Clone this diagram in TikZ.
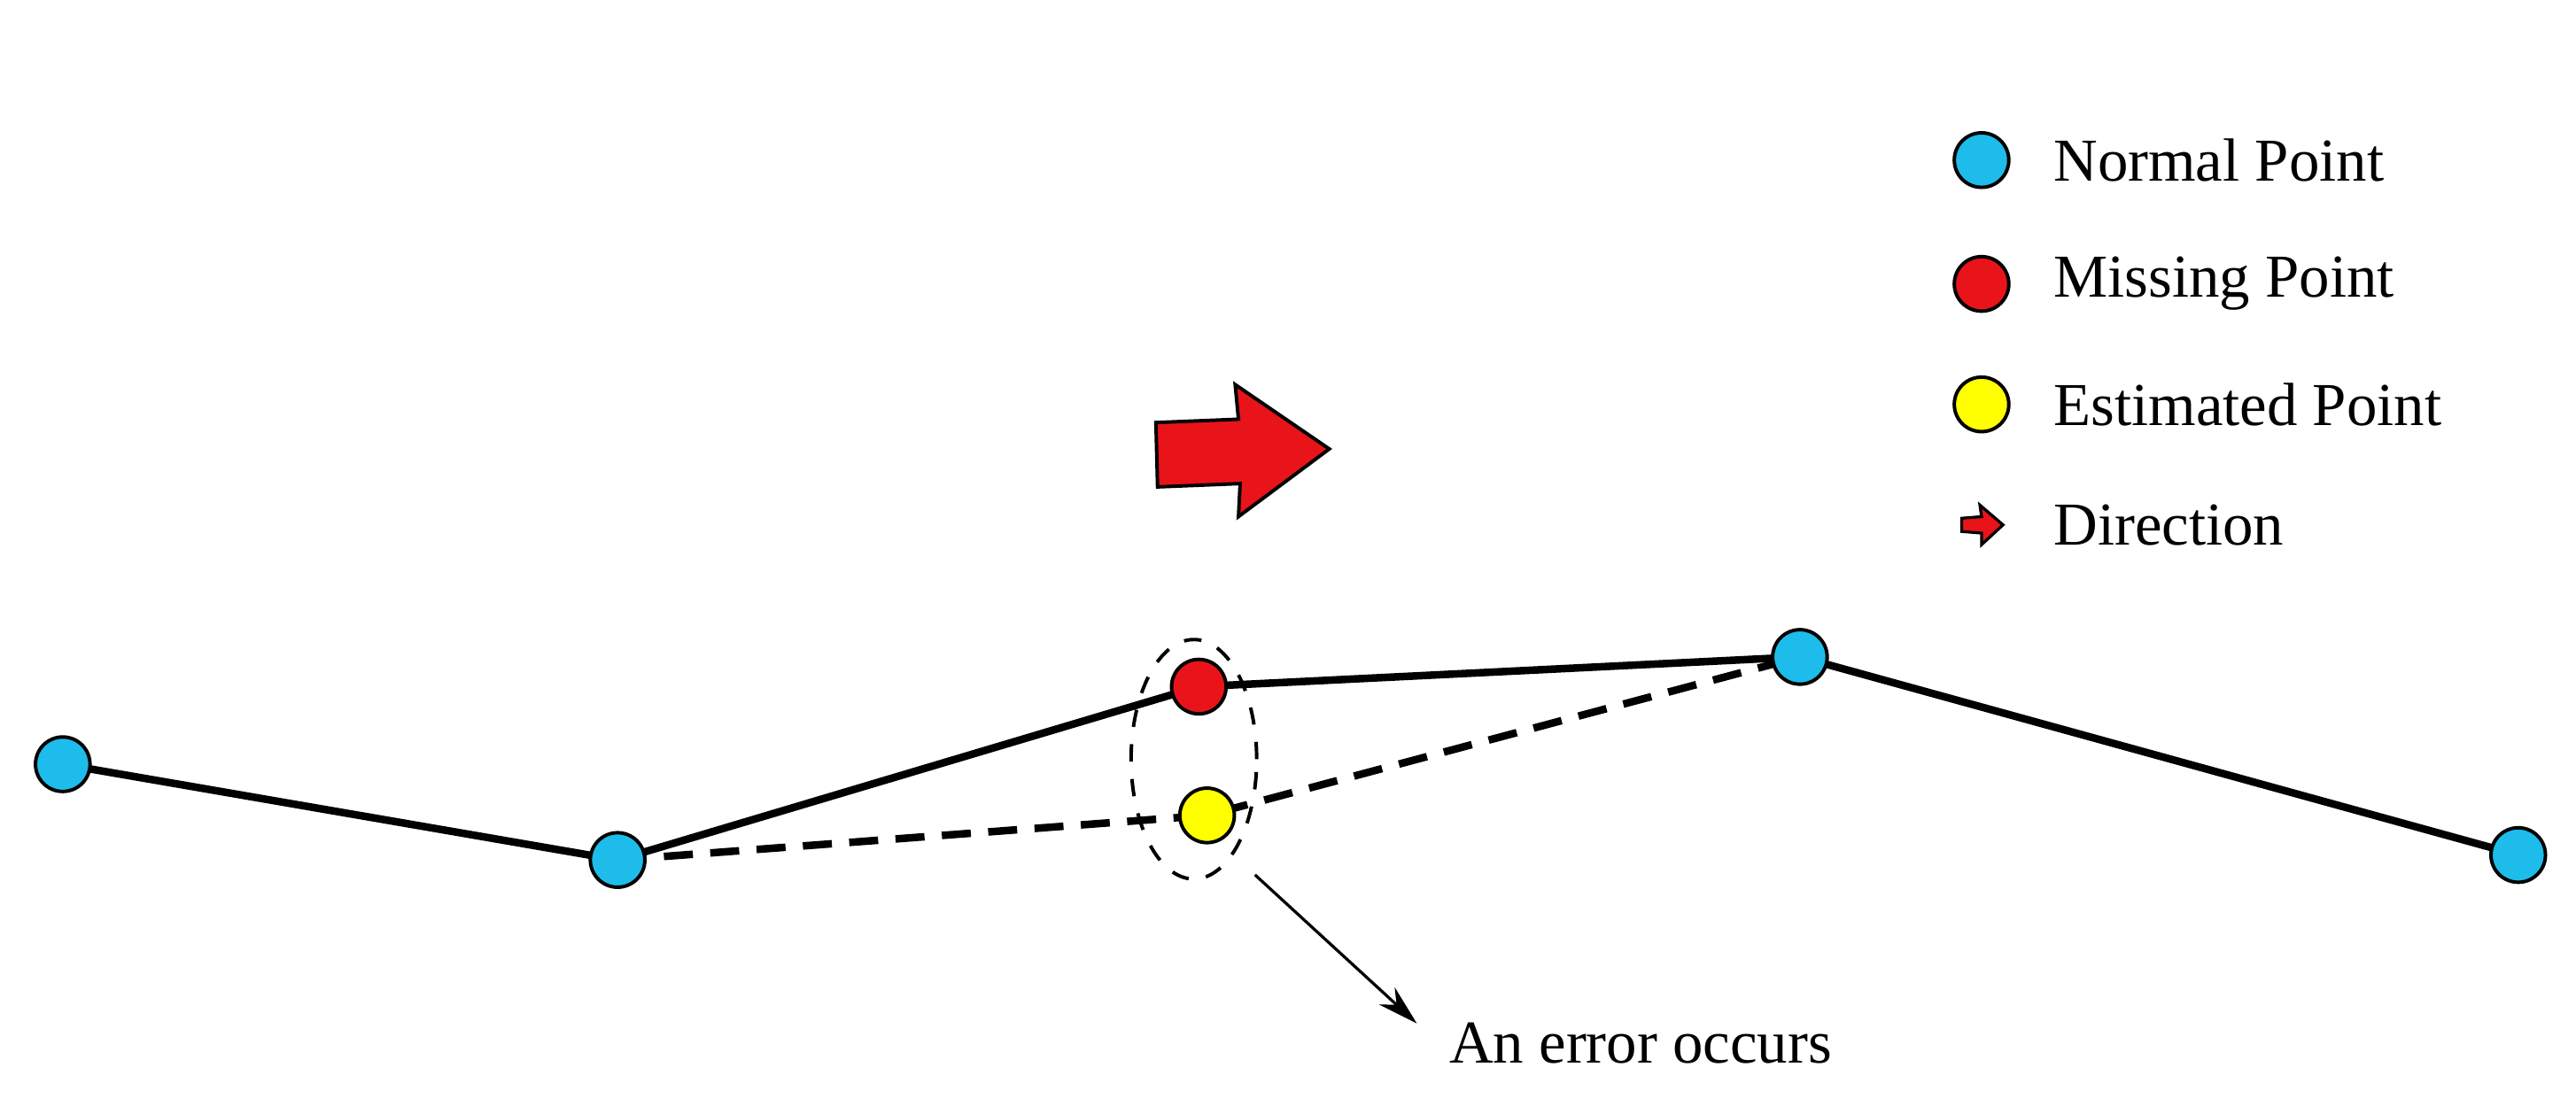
\documentclass[tikz,border=0pt]{standalone}
\usepackage{fontspec}
\setmainfont{Liberation Serif}
\usetikzlibrary{arrows.meta,shapes.geometric}
\definecolor{cyanpt}{HTML}{1EBCEA}
\definecolor{redpt}{HTML}{E8141A}
\definecolor{yelpt}{HTML}{FFFF00}
\tikzset{
  pt/.style={circle,draw=black,line width=0.6pt,minimum size=0.33cm,inner sep=0pt},
  normal/.style={pt,fill=cyanpt},
  missing/.style={pt,fill=redpt},
  estim/.style={pt,fill=yelpt},
  solidln/.style={line width=1.3pt},
  dashln/.style={line width=1.3pt,dash pattern=on 5pt off 3pt},
  lbl/.style={anchor=west,font=\fontsize{10.5}{12}\selectfont,inner sep=0pt}
}
\begin{document}
\begin{tikzpicture}[x=0.01cm,y=-0.01cm]
\useasboundingbox (0,0) rectangle (1560,665);
\coordinate (p1) at (38,463);
\coordinate (p2) at (374,521);
\coordinate (r) at (726,416);
\coordinate (y) at (731,494);
\coordinate (p4) at (1090,398);
\coordinate (p5) at (1525,518);
\draw[solidln] (p1) -- (p2) -- (r) -- (p4) -- (p5);
\draw[dashln] (p2) -- (y) -- (p4);
\node[normal] (n1) at (p1) {};
\node[normal] (n2) at (p2) {};
\node[missing] (nr) at (r) {};
\node[estim] (ny) at (y) {};
\node[normal] (n4) at (p4) {};
\node[normal] (n5) at (p5) {};
\node[ellipse,draw,dashed,line width=0.6pt,minimum width=0.76cm,minimum height=1.45cm,inner sep=0pt] (el) at (723,460) {};
\coordinate (ea) at (760,530);
\coordinate (eb) at (858,620);
\node[lbl] (err) at (877,632) {An error occurs};
\draw[-{Stealth[length=7pt,width=4pt]},line width=0.5pt] (ea) -- (eb);
% big arrow
\draw[fill=redpt,line width=0.6pt] (700,256) -- (750,254) -- (748,233) -- (805,272) -- (750,313) -- (751,293) -- (701,295) -- cycle;
% legend
\node[normal] (l1) at (1200,97) {};
\node[missing] (l2) at (1200,172) {};
\node[estim] (l3) at (1200,245) {};
\node[lbl] (t1) at (1243,97) {Normal Point};
\node[lbl] (t2) at (1243,172) {Missing Point};
\node[lbl] (t3) at (1243,245) {Estimated Point};
\node[lbl] (t4) at (1243,318) {Direction};
\draw[fill=redpt,line width=0.5pt] (1188,314) -- (1200,313) -- (1199,306) -- (1213,318) -- (1200,330) -- (1200,323) -- (1188,322) -- cycle;
\end{tikzpicture}
\end{document}
